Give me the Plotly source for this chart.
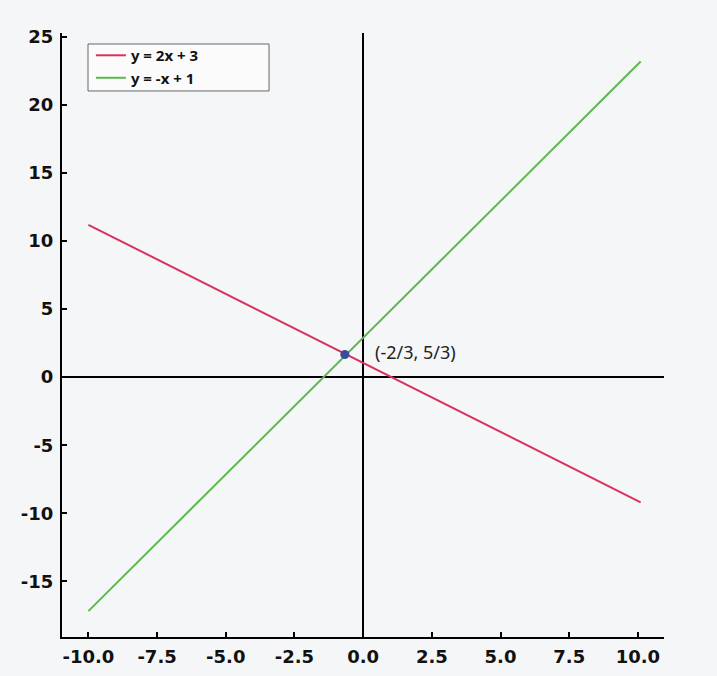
import plotly.graph_objects as go

# Data
x_vals = [-10.0, 10.1]
red_vals = [11.2, -9.2]     # labelled "y = 2x + 3" in the legend
green_vals = [-17.2, 23.2]  # labelled "y = -x + 1" in the legend
red_name = "y = 2x + 3"
green_name = "y = -x + 1"
point_x = [-2/3]
point_y = [5/3]
point_label = "(-2/3, 5/3)"
x_ticks = [-10.0, -7.5, -5.0, -2.5, 0.0, 2.5, 5.0, 7.5, 10.0]
y_ticks = [-15, -10, -5, 0, 5, 10, 15, 20, 25]

bg = "#f5f6f8"
fig = go.Figure()
fig.add_trace(go.Scatter(x=x_vals, y=red_vals, mode="lines", name=red_name,
                         line=dict(color="#d9325e", width=2)))
fig.add_trace(go.Scatter(x=x_vals, y=green_vals, mode="lines", name=green_name,
                         line=dict(color="#5cb84c", width=2)))
fig.add_trace(go.Scatter(x=point_x, y=point_y, mode="markers", showlegend=False,
                         marker=dict(color="#3b4a9c", size=9)))
fig.add_annotation(x=point_x[0], y=point_y[0], text=point_label, showarrow=False,
                   xanchor="left", yanchor="middle", xshift=28, yshift=3,
                   font=dict(family="Noto Sans", size=18, color="#222"))

axis_common = dict(showline=True, linecolor="black", linewidth=2, mirror=False,
                   showgrid=False, zeroline=True, zerolinecolor="black", zerolinewidth=1.5,
                   ticks="inside", ticklen=5, tickwidth=1.5, tickcolor="black", automargin=False,
                   tickfont=dict(family="DejaVu Sans", size=18, color="#111", weight="bold"))
fig.update_xaxes(range=[-10.96, 10.95], tickvals=x_ticks,
                 ticktext=[f"{v:.1f}" for v in x_ticks], ticklabelstandoff=2, **axis_common)
fig.update_yaxes(range=[-19.1, 25.3], tickvals=y_ticks,
                 ticktext=[str(v) for v in y_ticks], ticklabelstandoff=3, **axis_common)

# legend frame (rounded-corner box in the reference)
fig.add_shape(type="rect", xref="paper", yref="paper",
              x0=0.0432, x1=0.3439, y0=0.904, y1=0.9818,
              line=dict(color="#666", width=1), fillcolor="rgba(255,255,255,0.6)", layer="above")

fig.update_layout(
    width=717, height=676,
    margin=dict(l=62, r=53, t=33, b=39),
    paper_bgcolor=bg, plot_bgcolor=bg,
    showlegend=True,
    legend=dict(x=0.048, y=0.99, xanchor="left", yanchor="top",
                bgcolor="rgba(0,0,0,0)", borderwidth=0,
                font=dict(family="Noto Sans", size=15, color="#111", weight="bold"),
                tracegroupgap=0, itemwidth=30),
)
post = ("document.body.style.margin='0';"
        "document.body.style.background='%s';" % bg)
fig.write_html("out.html", post_script=post, config={"displayModeBar": False})
